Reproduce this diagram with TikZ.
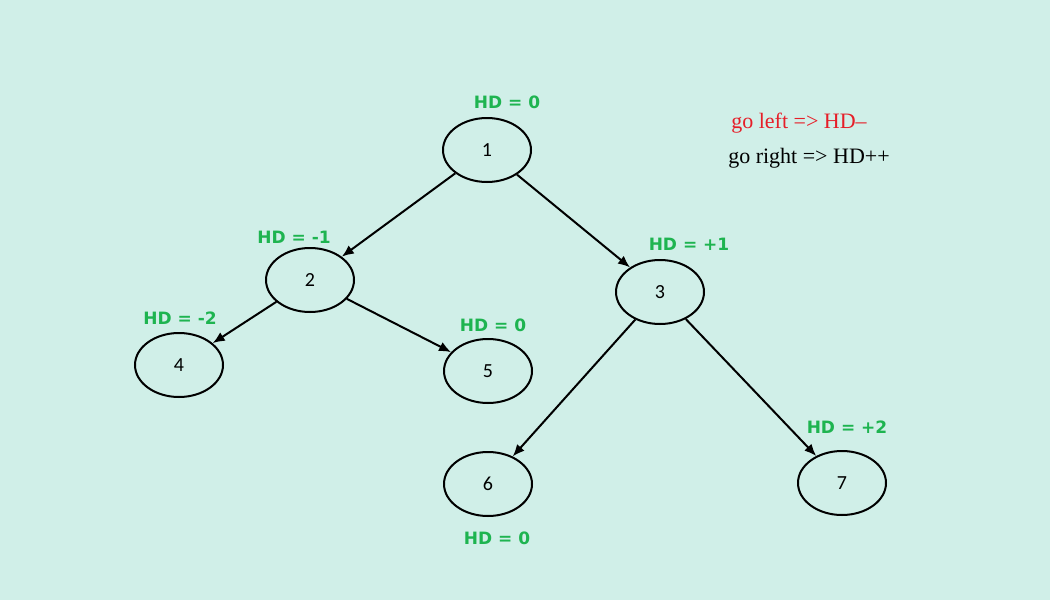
\documentclass[tikz,border=0pt]{standalone}
\usepackage{fontspec}
\setmainfont{Liberation Serif}
\newfontfamily\numfont{Carlito}
\newfontfamily\hdfont{DejaVu Sans}
\usetikzlibrary{shapes.geometric,arrows.meta}
\definecolor{bg}{RGB}{208,239,232}
\definecolor{hdgreen}{RGB}{30,180,80}
\definecolor{legred}{RGB}{230,30,40}
\begin{document}
\begin{tikzpicture}[x=1pt,y=-1pt,
  tn/.style={ellipse,draw,line width=2pt,minimum width=88pt,minimum height=64pt,inner sep=0pt,font=\numfont\fontsize{20}{24}\selectfont},
  hd/.style={text=hdgreen,font=\hdfont\bfseries\fontsize{17}{20}\selectfont},
  edge/.style={line width=2pt,-{Latex[length=12pt,width=10pt]}}]
\fill[bg] (0,0) rectangle (1050,600);
\useasboundingbox (0,0) rectangle (1050,600);
\node[tn] (n1) at (487,150) {1};
\node[tn] (n2) at (310,280) {2};
\node[tn] (n3) at (660,292) {3};
\node[tn] (n4) at (179,365) {4};
\node[tn] (n5) at (488,371) {5};
\node[tn] (n6) at (488,484) {6};
\node[tn] (n7) at (842,483) {7};
\draw[edge] (n1) -- (n2);
\draw[edge] (n1) -- (n3);
\draw[edge] (n2) -- (n4);
\draw[edge] (n2) -- (n5);
\draw[edge] (n3) -- (n6);
\draw[edge] (n3) -- (n7);
\node[hd] (h1) at (507,102) {HD = 0};
\node[hd] (h2) at (294,237) {HD = -1};
\node[hd] (h3) at (689,244) {HD = +1};
\node[hd] (h4) at (180,318) {HD = -2};
\node[hd] (h5) at (493,325) {HD = 0};
\node[hd] (h7) at (847,427) {HD = +2};
\node[hd] (h6) at (497,538) {HD = 0};
\node[text=legred,font=\fontsize{22}{26}\selectfont] (l1) at (799,123) {go left => HD--};
\node[font=\fontsize{22}{26}\selectfont] (l2) at (809,158) {go right => HD++};
\end{tikzpicture}
\end{document}
